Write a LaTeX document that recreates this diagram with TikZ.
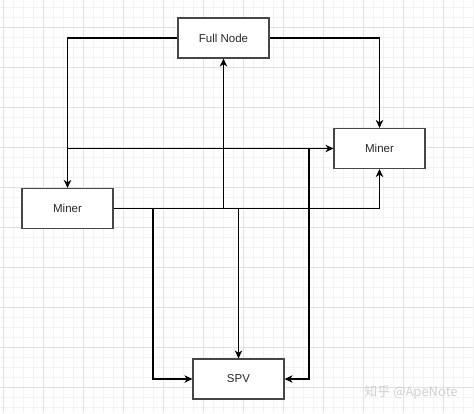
\documentclass[tikz,border=0pt]{standalone}
\usepackage{fontspec}
\setmainfont{Liberation Sans}
\newfontfamily\cjkfont{Noto Sans CJK SC}
\usepackage{tikz}
\usetikzlibrary{arrows.meta,calc,positioning}
\definecolor{boxline}{RGB}{70,70,70}
\definecolor{boxtext}{RGB}{40,40,40}
\definecolor{gridmin}{RGB}{243,243,243}
\definecolor{gridmaj}{RGB}{225,225,225}
\tikzset{
  peer/.style={rectangle,draw=boxline,line width=1.2pt,fill=white,
    minimum width=91pt,minimum height=40pt,align=center,inner sep=0pt,
    font=\fontsize{11.5}{13}\selectfont,text=boxtext},
  link/.style={-{Stealth[length=8pt,width=7.5pt,inset=2.5pt]},line width=1.3pt,black},
  bold link/.style={link,line width=1.6pt},
  minorgrid/.style={draw=gridmin,line width=0.6pt},
  majorgrid/.style={draw=gridmaj,line width=0.9pt}
}

\begin{document}
\begin{tikzpicture}[x=1pt,y=-1pt]
  \useasboundingbox (0,0) rectangle (474,413);
  \fill[white] (0,0) rectangle (474,413);
  % background grid
  \foreach \gx in {3,13,...,473} \draw[minorgrid] (\gx,0) -- (\gx,413);
  \foreach \gy in {7,17,...,407} \draw[minorgrid] (0,\gy) -- (474,\gy);
  \foreach \gx in {3,43,...,443} \draw[majorgrid] (\gx,0) -- (\gx,413);
  \foreach \gy in {27,67,...,387} \draw[majorgrid] (0,\gy) -- (474,\gy);

  \node[peer] (full) at (223.5,38) {Full Node};
  \node[peer] (mright) at (379.5,148.5) {Miner};
  \node[peer] (mleft) at (67.5,208.5) {Miner};
  \node[peer] (spv) at (238.5,379) {SPV};

  \coordinate (split) at (mleft.north |- mright.west);
  \coordinate (drop) at (309,148.5);
  \coordinate (tap) at (153,208.5);

  \draw[link] (full.west) -| (mleft.north);
  \draw[link] (full.east) -| (mright.north);
  \draw[link] (split) -- (mright.west);
  \draw[link] (drop) |- (spv.east);
  \draw[bold link] (mleft.east) -| (full.south);
  \draw[link] (tap) |- (spv.west);
  \draw[link] (mleft.east) -| (spv.north);
  \draw[link] (mleft.east) -| (mright.south);

  \node[font=\cjkfont\fontsize{13}{15}\selectfont,text=black!18] (mark) at (411,393) {知乎 @ApeNote};
\end{tikzpicture}
\end{document}
